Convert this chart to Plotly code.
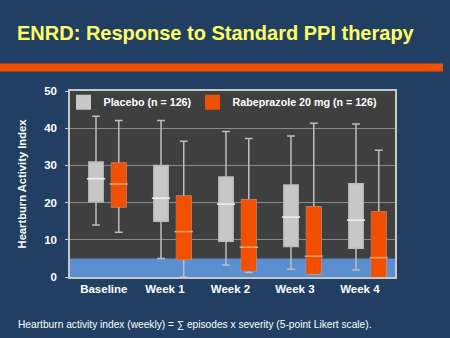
import plotly.graph_objects as go

categories = ["Baseline", "Week 1", "Week 2", "Week 3", "Week 4"]
placebo_low = [14.0, 5.0, 3.2, 2.1, 1.9]
placebo_q1 = [20.2, 15.0, 9.6, 8.2, 7.7]
placebo_med = [26.4, 21.2, 19.6, 16.1, 15.3]
placebo_q3 = [30.9, 30.0, 26.9, 24.7, 25.1]
placebo_high = [43.2, 42.1, 39.1, 37.9, 41.1]

rab_low = [12.0, 0.0, 1.2, 0.8, 0.0]
rab_q1 = [18.9, 4.8, 1.8, 0.9, 0.0]
rab_med = [25.0, 12.2, 8.0, 5.6, 5.2]
rab_q3 = [30.6, 21.7, 20.7, 18.8, 17.5]
rab_high = [42.1, 36.5, 37.2, 41.3, 34.1]

y_ticks = [0, 10, 20, 30, 40, 50]
response_band = [0, 5]

idx = list(range(len(categories)))
xp = [i + 0.40 for i in idx]
xr = [i + 0.75 for i in idx]
label_pos = [0.52, 1.46, 2.47, 3.46, 4.46]

GRAY = "#c8c8c8"
ORANGE = "#f05000"
WHISK = "#bdbdbd"
BW = 0.22

fig = go.Figure()

fig.add_trace(go.Box(x=xp, q1=placebo_q1, median=placebo_med, q3=placebo_q3,
                     lowerfence=placebo_low, upperfence=placebo_high,
                     width=BW, whiskerwidth=0.55, fillcolor=GRAY,
                     line=dict(color=WHISK, width=1.5), showlegend=False,
                     hoverinfo="skip"))
fig.add_trace(go.Box(x=xr, q1=rab_q1, median=rab_med, q3=rab_q3,
                     lowerfence=rab_low, upperfence=rab_high,
                     width=BW, whiskerwidth=0.55, fillcolor=ORANGE,
                     line=dict(color=WHISK, width=1.5), showlegend=False,
                     hoverinfo="skip"))
fig.add_trace(go.Box(x=xr, q1=rab_q1, median=rab_med, q3=rab_q3,
                     lowerfence=rab_q1, upperfence=rab_q3,
                     width=BW, whiskerwidth=0, fillcolor=ORANGE,
                     line=dict(color=ORANGE, width=1), showlegend=False,
                     hoverinfo="skip"))
fig.add_trace(go.Scatter(x=xp, y=placebo_med, mode="markers", showlegend=False,
                         marker=dict(symbol="line-ew", size=13,
                                     line=dict(color="#f4f4f4", width=1.5)),
                         hoverinfo="skip"))
fig.add_trace(go.Scatter(x=xr, y=rab_med, mode="markers", showlegend=False,
                         marker=dict(symbol="line-ew", size=13,
                                     line=dict(color="#f9a27a", width=1.5)),
                         hoverinfo="skip"))
fig.add_trace(go.Scatter(x=[None], y=[None], mode="markers", name="Placebo (n = 126)",
                         legend="legend",
                         marker=dict(symbol="square", size=15, color=GRAY)))
fig.add_trace(go.Scatter(x=[None], y=[None], mode="markers", name="Rabeprazole 20 mg (n = 126)",
                         legend="legend2",
                         marker=dict(symbol="square", size=15, color=ORANGE)))

fig.add_shape(type="rect", xref="paper", yref="y", x0=0, x1=1,
              y0=response_band[0], y1=response_band[1],
              fillcolor="#5b8fcf", line=dict(width=0), layer="below")
fig.add_shape(type="rect", xref="paper", yref="paper", x0=-70/325, x1=443/325 - 70/325,
              y0=(277 - 71.5) / 186, y1=(277 - 63.5) / 186,
              fillcolor="#f05000", line=dict(width=0))

fig.add_annotation(text="ENRD: Response to Standard PPI therapy", xref="paper", yref="paper",
                   x=-55/325, y=(277 - 33) / 186, xanchor="left", yanchor="middle",
                   showarrow=False,
                   font=dict(family="Liberation Sans", size=20, color="#ffff66", weight="bold"))
fig.add_annotation(text="Heartburn activity index (weekly) = \u2211 episodes x severity (5-point Likert scale).",
                   xref="paper", yref="paper", x=-54/325, y=(277 - 324) / 186,
                   xanchor="left", yanchor="middle", showarrow=False,
                   font=dict(family="Liberation Sans", size=10.2, color="white"))

legfont = dict(size=10.7, color="white", weight="bold")
fig.update_layout(
    width=450, height=338,
    margin=dict(l=70, r=55, t=91, b=61),
    paper_bgcolor="#213f63", plot_bgcolor="#3f3f3f",
    font=dict(family="Liberation Sans", color="white"),
    showlegend=True,
    legend=dict(orientation="h", x=-0.02, y=1.018, xanchor="left", yanchor="top",
                bgcolor="rgba(0,0,0,0)", font=legfont),
    legend2=dict(orientation="h", x=0.377, y=1.018, xanchor="left", yanchor="top",
                 bgcolor="rgba(0,0,0,0)", font=legfont),
    xaxis=dict(range=[0, 5], tickvals=label_pos, ticktext=categories,
               showgrid=False, zeroline=False, showline=True, linecolor="#c8c8c8",
               linewidth=1.5, mirror=True, ticks="",
               tickfont=dict(size=11.5, weight="bold", color="white")),
    yaxis=dict(range=[0, 50], tickvals=y_ticks, showgrid=True, gridcolor="#8a8a8a",
               gridwidth=1, zeroline=False, showline=True, linecolor="#c8c8c8",
               linewidth=1.5, mirror=True, ticks="outside", ticklen=3, tickcolor="#c8c8c8",
               ticklabelstandoff=6,
               tickfont=dict(size=11.5, weight="bold", color="white"),
               title=dict(text="Heartburn Activity Index", standoff=15,
                          font=dict(size=11.2, weight="bold", color="white"))),
)

fig.write_html("out.html")
